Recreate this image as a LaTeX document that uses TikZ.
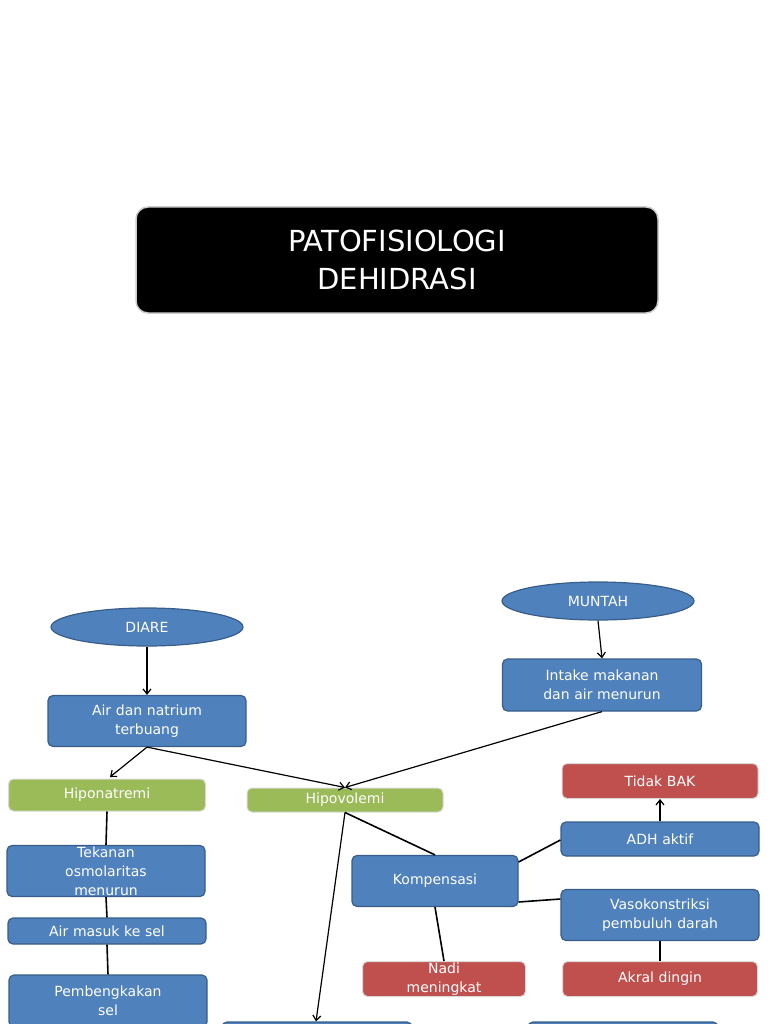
\documentclass[tikz,border=0pt]{standalone}
\usepackage{fontspec}
\setmainfont{DejaVu Sans}
\usetikzlibrary{shapes.geometric,arrows.meta}
\definecolor{bfill}{HTML}{4F81BD}
\definecolor{bdraw}{HTML}{385D8A}
\definecolor{gfill}{HTML}{9BBB59}
\definecolor{rfill}{HTML}{C0504D}
\tikzset{
  x=1pt,y=-1pt,
  base/.style={rounded corners=5pt,text=white,align=center,font=\fontsize{14}{19}\selectfont,inner sep=0pt},
  bluebox/.style={base,fill=bfill,draw=bdraw,line width=1.2pt},
  greenbox/.style={base,fill=gfill,draw=white!85!black,line width=1pt},
  redbox/.style={base,fill=rfill,draw=white!85!black,line width=1pt},
  oval/.style={ellipse,fill=bfill,draw=bdraw,line width=1.2pt,text=white,font=\fontsize{14}{17}\selectfont,inner sep=0pt},
  arr/.style={-{Straight Barb[length=5pt,width=8pt]},line width=1.2pt},
  ln/.style={line width=1.6pt}
}
\newcommand{\bx}[6]{\node[#1,minimum width=#4pt,minimum height=#5pt,text width=#4pt] (#2) at (#3) {#6};}
\begin{document}
\begin{tikzpicture}
\useasboundingbox (0,0) rectangle (768,1024);
\node[rounded corners=12pt,fill=black,draw=white!80!black,line width=1.5pt,minimum width=522pt,minimum height=106pt,text=white,align=center,font=\fontsize{29}{38}\selectfont] (title) at (397,260) {PATOFISIOLOGI\\DEHIDRASI};
\node[oval,minimum width=192pt,minimum height=38pt] (diare) at (147,627) {DIARE};
\node[oval,minimum width=192pt,minimum height=38pt] (muntah) at (598,601) {MUNTAH};
\bx{bluebox}{intake}{602,685}{199}{52}{Intake makanan\\dan air menurun}
\bx{bluebox}{air}{147,721}{198}{51}{Air dan natrium\\terbuang}
\bx{greenbox}{hipon}{107,795}{197}{32}{Hiponatremi}
\bx{greenbox}{hipov}{345,800}{196}{24}{Hipovolemi}
\bx{redbox}{tidak}{660,781}{196}{35}{Tidak BAK}
\bx{bluebox}{adh}{660,839}{198}{34}{ADH aktif}
\bx{bluebox}{komp}{435,881}{166}{51}{Kompensasi}
\bx{bluebox}{vaso}{660,915}{198}{51}{Vasokonstriksi\\pembuluh darah}
\bx{redbox}{nadi}{444,979}{163}{35}{Nadi\\meningkat}
\bx{redbox}{akral}{660,979}{195}{35}{Akral dingin}
\bx{bluebox}{tek}{106,871}{198}{51}{Tekanan\\osmolaritas\\menurun}
\bx{bluebox}{masuk}{107,931}{198}{26}{Air masuk ke sel}
\bx{bluebox}{bengkak}{108,1001}{198}{52}{Pembengkakan\\sel}
\bx{bluebox}{bot1}{317,1046}{190}{48}{}
\bx{bluebox}{bot2}{623,1046}{190}{48}{}
\draw[arr] (diare.south) -- (air.north);
\draw[arr] (muntah.south) -- (intake.north);
\draw[arr] (air.south) -- (110,777);
\draw[arr] (air.south) -- (hipov.north);
\draw[arr] (intake.south) -- (hipov.north);
\draw[arr] (hipov.south) -- (bot1.north -| 316,0);
\draw[ln] (hipov.south) -- (komp.north);
\draw[ln] (komp.east |- 0,862) -- (adh.west |- 0,840);
\draw[ln] (komp.east |- 0,902) -- (vaso.west |- 0,899);
\draw[ln] (komp.south) -- (nadi.north);
\draw[arr] (adh.north) -- (tidak.south);
\draw[ln] (vaso.south) -- (akral.north);
\draw[ln] (hipon.south) -- (tek.north);
\draw[ln] (tek.south) -- (masuk.north);
\draw[ln] (masuk.south) -- (bengkak.north);
\end{tikzpicture}
\end{document}
